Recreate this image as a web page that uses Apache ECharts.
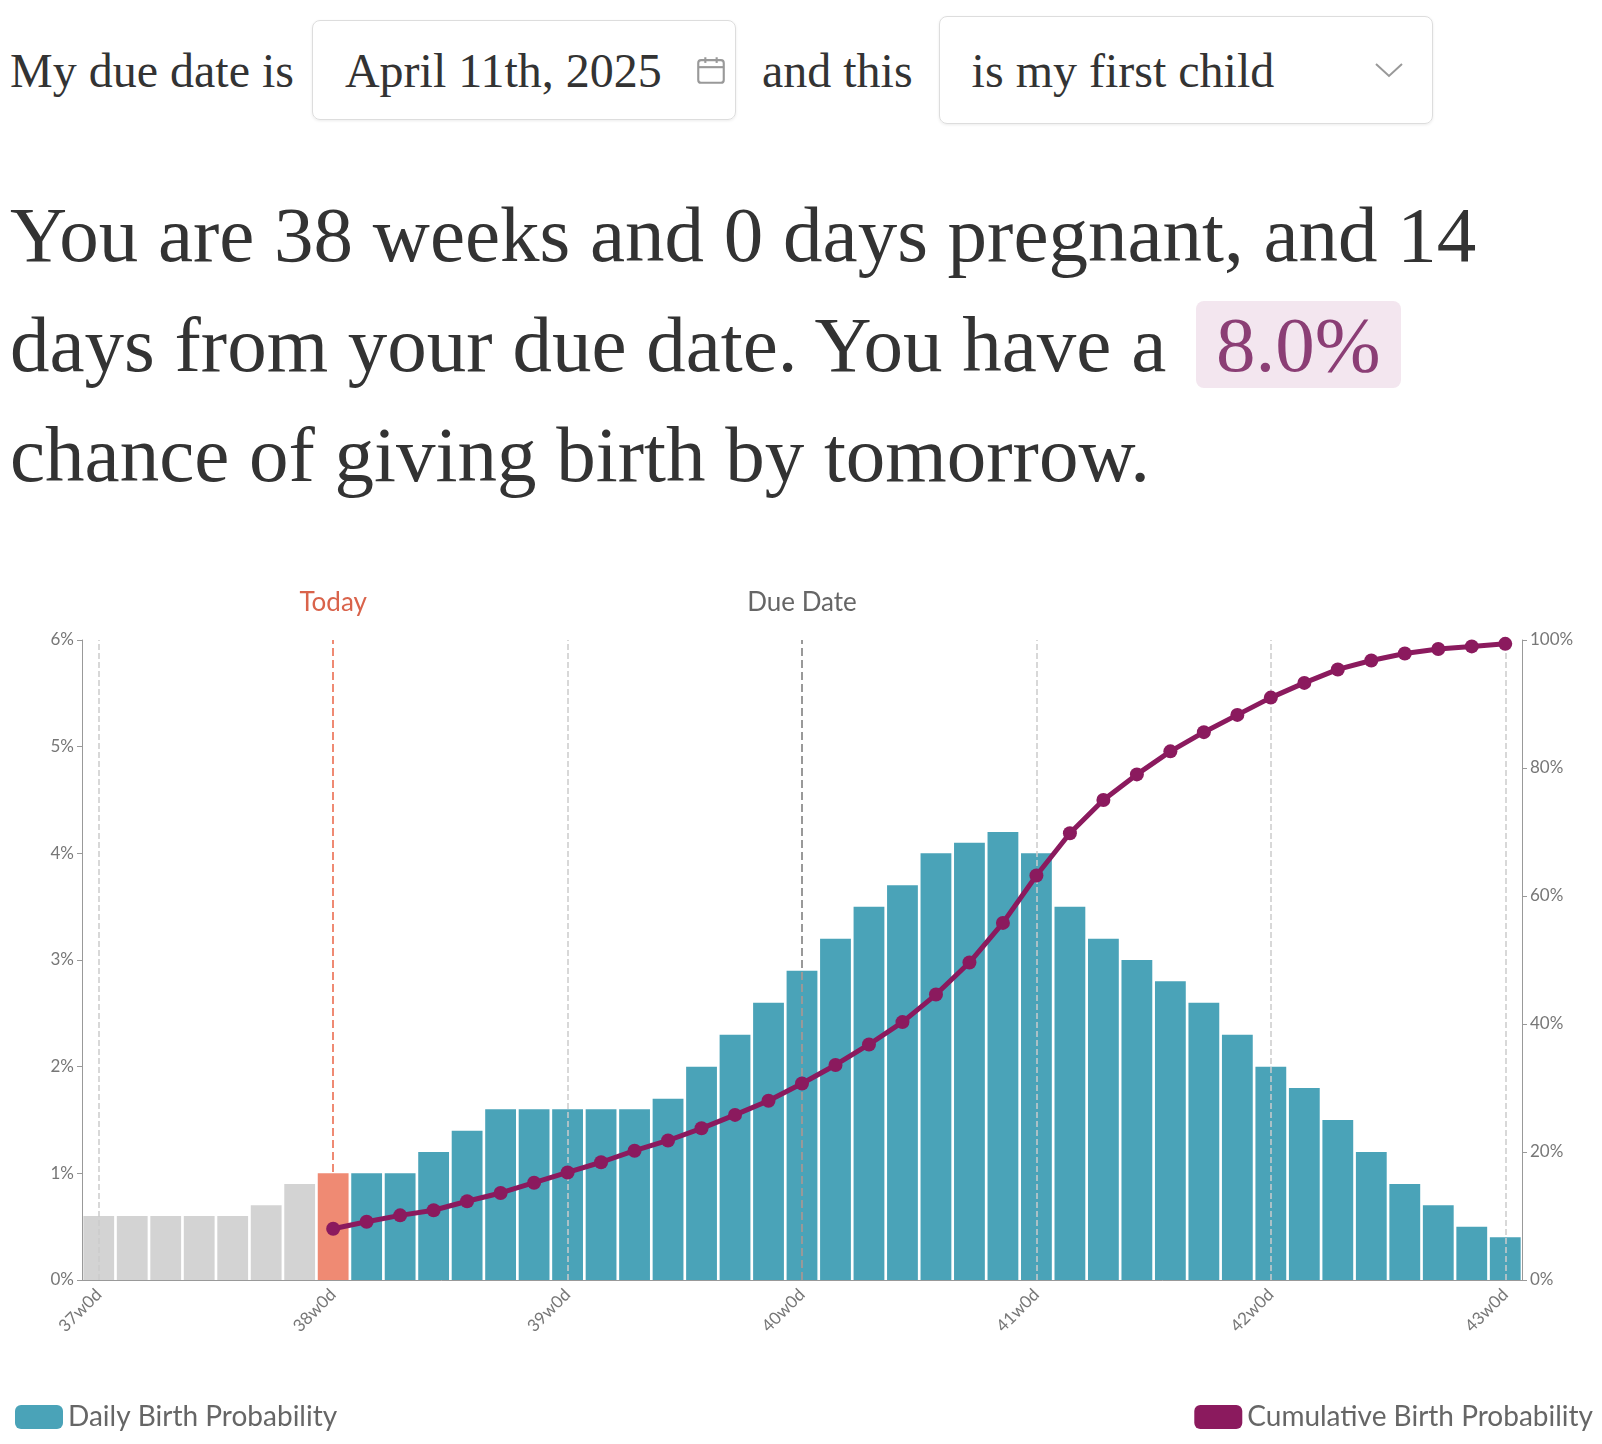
<!DOCTYPE html>
<html>
<head>
<meta charset="utf-8">
<script src="https://cdn.jsdelivr.net/npm/echarts@6/dist/echarts.min.js"></script>
<style>
body{margin:0;width:1602px;height:1444px;background:#fff;font-family:"Liberation Serif",serif;color:#333;overflow:hidden;position:relative}
.row{position:absolute;top:16px;left:10px;display:flex;align-items:center;font-size:48px}
.box{border:1px solid #ddd;border-radius:8px;box-shadow:0 1px 3px rgba(0,0,0,.08);height:100px;display:flex;align-items:center;box-sizing:border-box}
.big{position:absolute;left:10px;top:180px;font-size:79px;line-height:110px;width:1570px;color:#333}
.hl{background:#f3e6ef;color:#8b3e75;border-radius:8px;padding:0 20px;margin-left:10px}
#chart{position:absolute;left:0;top:560px;width:1602px;height:884px}
</style>
</head>
<body>
<div class="row">
  <span>My due date is</span>
  <div class="box" style="margin-left:18px;width:424px;padding-left:32px">April 11th, 2025
    <svg width="34" height="34" style="margin-left:32px" viewBox="0 0 24 24" fill="none" stroke="#999" stroke-width="1.5"><rect x="3" y="5" width="18" height="16" rx="2"/><line x1="3" y1="10" x2="21" y2="10"/><line x1="8" y1="3" x2="8" y2="7"/><line x1="16" y1="3" x2="16" y2="7"/></svg>
  </div>
  <span style="margin-left:26px">and this</span>
  <div class="box" style="margin-left:26px;width:494px;padding-left:32px;height:108px">is my first child
    <svg width="30" height="20" style="margin-left:100px" viewBox="0 0 30 20" fill="none" stroke="#999" stroke-width="2"><polyline points="2,4 15,16 28,4"/></svg>
  </div>
</div>
<div class="big">You are 38 weeks and 0 days pregnant, and 14 days from your due date. You have a <span class="hl">8.0%</span> chance of giving birth by tomorrow.</div>
<div id="chart"></div>
<script>
var days = [];
for (var w = 37; w <= 43; w++) {
    for (var d = 0; d < 7; d++) {
        if (w == 43 && d > 0) break;
        days.push(w + 'w' + d + 'd');
    }
}
var daily = [0.6,0.6,0.6,0.6,0.6,0.7,0.9, 1.0,1.0,1.0,1.2,1.4,1.6,1.6,
    1.6,1.6,1.6,1.7,2.0,2.3,2.6, 2.9,3.2,3.5,3.7,4.0,4.1,4.2,
    4.0,3.5,3.2,3.0,2.8,2.6,2.3, 2.0,1.8,1.5,1.2,0.9,0.7,0.5, 0.4];
var cumulative = [null,null,null,null,null,null,null,
    8.0,9.1,10.1,10.9,12.3,13.6,15.2, 16.8,18.4,20.2,21.8,23.7,25.8,28.0,
    30.7,33.6,36.8,40.3,44.6,49.6,55.8, 63.2,69.8,75.0,79.0,82.6,85.6,88.3,
    91.0,93.3,95.4,96.8,97.9,98.6,99.0, 99.4];
var weekLines = ['37w0d','39w0d','41w0d','42w0d','43w0d'];
var todayIdx = 7;

var myChart = echarts.init(document.getElementById('chart'));
var weekly = function (i) { return i % 7 == 0; };
var barData = daily.map(function (v, i) {
    var c = i < todayIdx ? '#d3d3d3' : (i == todayIdx ? '#ef8a73' : '#4aa3b8');
    return {value: v, itemStyle: {color: c}};
});
var axisText = {color: '#777', fontFamily: 'Lato', fontSize: 17};
var marks = weekLines.map(function (x) {
    return {xAxis: x, lineStyle: {color: '#ccc', type: 'dashed', width: 1.5}, label: {show: false}};
});
marks.push({xAxis: '38w0d', lineStyle: {color: '#ef8a73', type: 'dashed', width: 2},
    label: {formatter: 'Today', color: '#d9634b'}});
marks.push({xAxis: '40w0d', lineStyle: {color: '#999', type: 'dashed', width: 2},
    label: {formatter: 'Due Date', color: '#666'}});
var option = {
    animation: false,
    grid: {left: 82, right: 80, top: 80, bottom: 164},
    legend: [
        {data: ['Daily Birth Probability'], left: 10, top: 838, itemWidth: 48, itemHeight: 24, itemGap: 16,
            textStyle: {fontFamily: 'Lato', fontSize: 28, color: '#666'}, icon: 'roundRect'},
        {data: ['Cumulative Birth Probability'], right: 4, top: 838, itemWidth: 48, itemHeight: 24, itemGap: 16,
            textStyle: {fontFamily: 'Lato', fontSize: 28, color: '#666'}, icon: 'roundRect'}
    ],
    xAxis: {
        type: 'category', data: days, boundaryGap: true,
        axisLine: {lineStyle: {color: '#999'}},
        axisTick: {alignWithLabel: true, interval: function (i) { return weekly(i); }, length: 6, lineStyle: {color: '#999'}},
        axisLabel: Object.assign({rotate: 45, interval: function (i) { return weekly(i); }, margin: 12}, axisText),
        splitLine: {show: false}
    },
    yAxis: [
        {type: 'value', min: 0, max: 6, interval: 1, splitLine: {show: false},
            axisLine: {show: true, lineStyle: {color: '#999'}}, axisTick: {show: true, lineStyle: {color: '#999'}},
            axisLabel: Object.assign({formatter: '{value}%'}, axisText)},
        {type: 'value', min: 0, max: 100, interval: 20, splitLine: {show: false},
            axisLine: {show: true, lineStyle: {color: '#999'}}, axisTick: {show: true, lineStyle: {color: '#999'}},
            axisLabel: Object.assign({formatter: '{value}%'}, axisText)}
    ],
    series: [
        {
            name: 'Daily Birth Probability', type: 'bar', data: barData, barCategoryGap: '8%',
            itemStyle: {color: '#4aa3b8'},
            markLine: {
                symbol: 'none', silent: true, data: marks,
                label: {position: 'end', distance: 24, fontFamily: 'Lato', fontSize: 26}
            }
        },
        {
            name: 'Cumulative Birth Probability', type: 'line', yAxisIndex: 1, data: cumulative,
            symbol: 'circle', symbolSize: 14, smooth: false, z: 5,
            lineStyle: {color: '#8b1a5e', width: 5}, itemStyle: {color: '#8b1a5e'}
        }
    ]
};
myChart.setOption(option);
</script>
</body>
</html>
